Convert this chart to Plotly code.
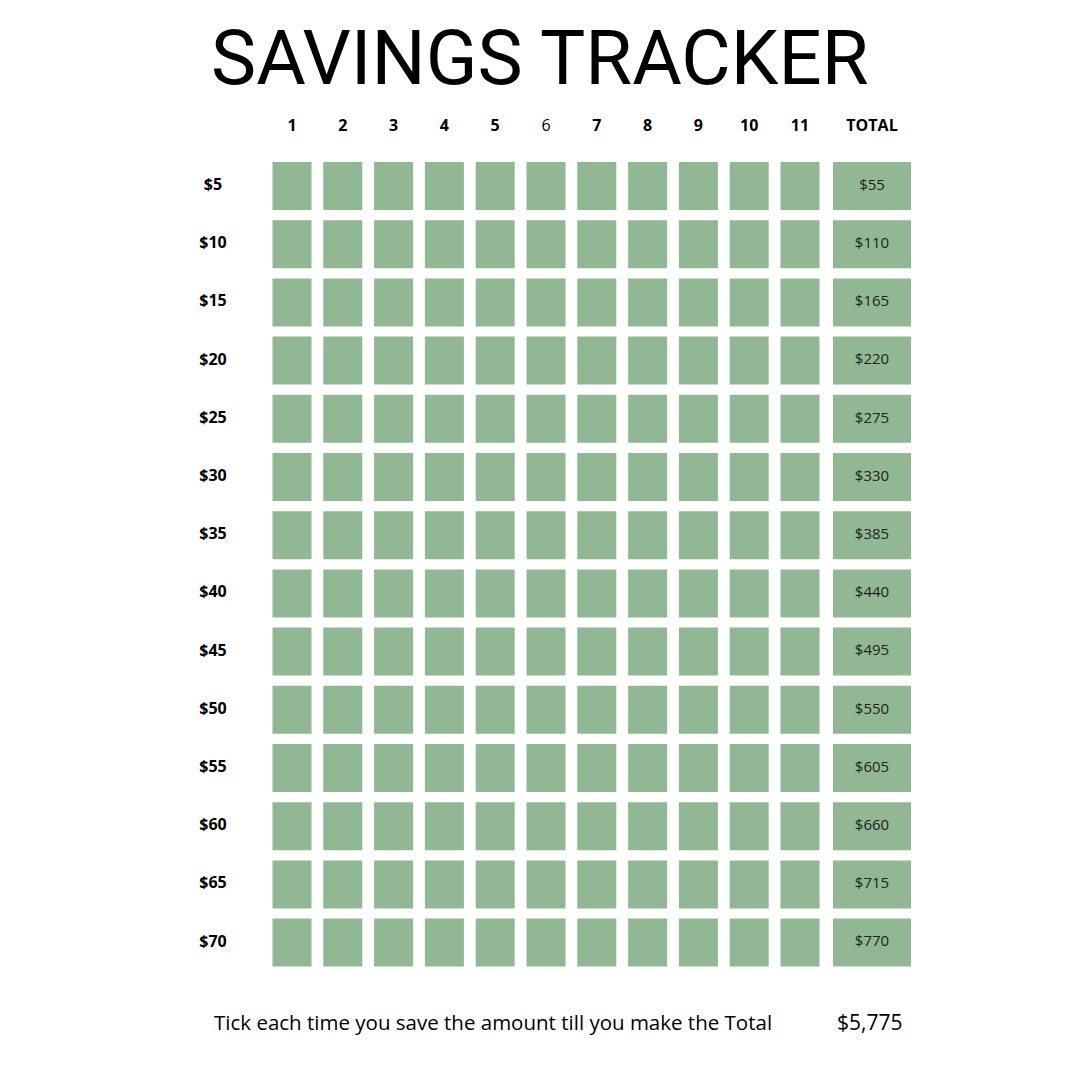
import plotly.graph_objects as go

# data
weeks = ["1", "2", "3", "4", "5", "6", "7", "8", "9", "10", "11"]
amounts = [5, 10, 15, 20, 25, 30, 35, 40, 45, 50, 55, 60, 65, 70]
totals = [a * len(weeks) for a in amounts]
grand_total = sum(totals)

GREEN = "#92b795"
FONT = "Open Sans"

# page geometry in pixel units (axes map 1:1 onto the canvas; page body has an 8px margin)
col_x = [292 + i * 50.8 for i in range(len(weeks))]
total_x = 872
row_y = [186 + i * 58.2 for i in range(len(amounts))]
cell_w, cell_h = 39, 48
total_w = 78
OFF = 8

fig = go.Figure()
shapes = []
for y in row_y:
    for x in col_x:
        shapes.append(dict(type="rect", x0=x - cell_w / 2, x1=x + cell_w / 2,
                           y0=y - cell_h / 2, y1=y + cell_h / 2,
                           fillcolor=GREEN, line_width=0, layer="below"))
    shapes.append(dict(type="rect", x0=total_x - total_w / 2, x1=total_x + total_w / 2,
                       y0=y - cell_h / 2, y1=y + cell_h / 2,
                       fillcolor=GREEN, line_width=0, layer="below"))

# headers
fig.add_trace(go.Scatter(
    x=col_x + [total_x], y=[127] * (len(weeks) + 1), mode="text",
    text=[f"<b>{w}</b>" if w != "6" else w for w in weeks] + ["<b>TOTAL</b>"],
    textfont=dict(family=FONT, size=16, color="black"), hoverinfo="skip"))
# row labels
fig.add_trace(go.Scatter(
    x=[213] * len(amounts), y=row_y, mode="text",
    text=[f"<b>${a}</b>" for a in amounts],
    textfont=dict(family=FONT, size=16, color="black"), hoverinfo="skip"))
# row totals
fig.add_trace(go.Scatter(
    x=[total_x] * len(amounts), y=row_y, mode="text",
    text=[f"${t:,}" for t in totals],
    textfont=dict(family=FONT, size=15, color="#222"), hoverinfo="skip"))

fig.add_annotation(x=540, y=58, text="SAVINGS TRACKER", showarrow=False,
                   font=dict(family="Liberation Sans Narrow, Roboto", size=76, color="black"))
fig.add_annotation(x=493, y=1022, text="Tick each time you save the amount till you make the Total",
                   showarrow=False, font=dict(family=FONT, size=20.5, color="black"))
fig.add_annotation(x=869, y=1022, text=f"${grand_total:,}", showarrow=False,
                   font=dict(family=FONT, size=21, color="black"))

fig.update_layout(
    width=1080, height=1080, margin=dict(l=0, r=0, t=0, b=0),
    paper_bgcolor="white", plot_bgcolor="white", showlegend=False,
    shapes=shapes,
    xaxis=dict(range=[OFF, 1080 + OFF], visible=False, fixedrange=True),
    yaxis=dict(range=[1080 + OFF, OFF], visible=False, fixedrange=True),
)
fig.write_html("out.html")
